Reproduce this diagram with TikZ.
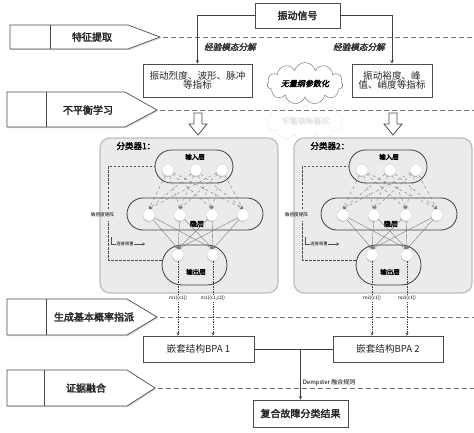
\documentclass[tikz,border=0pt]{standalone}
\usepackage{fontspec}
\setmainfont{Noto Sans CJK SC}[AutoFakeBold=2.5,AutoFakeSlant=0.2]
\usepackage{tikz}
\usetikzlibrary{calc}
\usetikzlibrary{shapes}
\usetikzlibrary{shadows}
\definecolor[named]{PanelGray}{gray}{0.92}
\definecolor[named]{PanelEdge}{gray}{0.74}
\definecolor[named]{InkGray}{gray}{0.30}
\newcommand{\fsz}[1]{\fontsize{#1}{#1}\selectfont}

\tikzset{
  neuron/.style={circle,minimum size=12pt,inner sep=0pt,fill=white,draw=black!20,line width=0.3pt,
    circular drop shadow={shadow xshift=-0.8pt,shadow yshift=-0.8pt,opacity=0.35,shadow scale=1.05}},
  nnw/.style={draw=black!55,line width=0.35pt,->},
  lyr/.style={font=\bfseries\fsz{6.5},inner sep=0pt},
  layer/.style={rounded rectangle,draw=black!75,line width=0.8pt,inner sep=0pt},
  fb/.style={draw=black!70,line width=0.5pt,dash pattern=on 2.5pt off 1.5pt},
  tinytxt/.style={font=\fsz{4.6},inner sep=0.6pt}
}

\tikzset{hollow/.pic={ %{{{
  \draw[black!70,line width=0.8pt,fill=white]
    (-4,-11) -- (4,-11) -- (4,0) -- (9,0) -- (0,11) -- (-9,0) -- (-4,0) -- cycle;
}}
%}}}
\tikzset{clf/.pic={ %{{{
  % panel
  \draw[PanelEdge,fill=PanelGray,line width=1.2pt,rounded corners=10pt] (0,0) rectangle (178,155);
  \node[anchor=west,font=\bfseries\fsz{8.5}] (-title) at (13,8) {分类器#1：};
  % layers
  \node[layer,minimum width=78pt,minimum height=33pt] (-in) at (94,28.5) {};
  \node[layer,minimum width=136pt,minimum height=32pt] (-hid) at (95,76) {};
  \node[layer,minimum width=65pt,minimum height=40pt] (-out) at (94.5,127) {};
  \node[lyr] (-inl) at (95,19) {输入层};
  \node[lyr,font=\bfseries\fsz{7}] (-hidl) at (97,86) {隐层};
  \node[lyr] (-outl) at (96,134) {输出层};
  % neurons
  \foreach \x [count=\k] in {68,96,122} \node[neuron] (-i\k) at (\x,32) {};
  \foreach \x [count=\k] in {49,80,112,143} \node[neuron] (-h\k) at (\x,77) {};
  \foreach \x [count=\k] in {78,113} \node[neuron] (-o\k) at (\x,117) {};
  \foreach \a in {1,2,3} \foreach \b in {1,...,4} \draw[nnw,dashed] (-i\a) -- (-h\b.north);
  \foreach \a in {1,...,4} \foreach \b in {1,2} \draw[nnw] (-h\a) -- (-o\b.north);
  % sensitivity feedback
  \node[tinytxt] (-sens) at (2.5,77) {敏感度矩阵};
  \coordinate (-s1) at (8,83);
  \coordinate (-s2) at (8,71);
  \draw[fb] ([yshift=5pt]-out.west) -| (-s1);
  \draw[fb] (-s2) |- (-in.west);
  % weight legend
  \coordinate (-w0) at (11,99);
  \node[tinytxt,font=\fsz{4.3}] (-wt) at (25,106) {连接权重};
  \draw[black!70,line width=0.4pt] (-w0) |- (-wt.west);
  \draw[black!70,line width=0.4pt,->] (-wt.east) -- ++(11,0);
}}
%}}}

\begin{document}
\begin{tikzpicture}[x=1pt,y=-1pt,>=stealth,
    box/.style={draw=black!70,line width=0.7pt,fill=white,inner sep=2pt,align=center,
      font=\fsz{9.6},text=black!85,
      drop shadow={shadow xshift=1.2pt,shadow yshift=-1.2pt,opacity=0.3}},
    stagebox/.style={draw=black!70,line width=0.7pt,fill=white,
      drop shadow={shadow xshift=1.2pt,shadow yshift=-1.2pt,opacity=0.3}},
    stagetxt/.style={font=\bfseries\fsz{10},text=black!85},
    sepline/.style={draw=black!55,line width=0.7pt,dash pattern=on 5pt off 3pt},
    conn/.style={draw=black!75,line width=0.6pt},
    mline/.style={draw=black!75,line width=0.45pt,dash pattern=on 1.5pt off 1pt,->},
    mlab/.style={fill=white,inner sep=0.8pt,font=\fsz{4.6}}]
  \useasboundingbox (0,0) rectangle (474,433);

  % Stages on the left
  \draw[stagebox] (10,25) -- (128,25) -- (160,37) coordinate (t1) -- (128,49) -- (10,49) -- cycle;
  \draw[stagebox] (7,92) -- (125,92) -- (157,110) coordinate (t2) -- (125,127) -- (7,127) -- cycle;
  \draw[stagebox] (7,299) -- (127,299) -- (157,317) coordinate (t3) -- (127,335) -- (7,335) -- cycle;
  \draw[stagebox] (7,370) -- (127,370) -- (155,388) coordinate (t4) -- (127,406) -- (7,406) -- cycle;
  \draw[black!70,line width=0.7pt]
    (50,25) -- (50,49)  (46,92) -- (46,127)
    (46,299) -- (46,335)  (44,370) -- (44,406);
  \node[stagetxt] (st1) at (92,37) {特征提取};
  \node[stagetxt] (st2) at (88,110) {不平衡学习};
  \node[stagetxt] (st3) at (94,317) {生成基本概率指派};
  \node[stagetxt] (st4) at (86,388) {证据融合};

  \coordinate (e1) at (474,37);
  \coordinate (e2) at (474,110);
  \coordinate (e3) at (474,317);
  \coordinate (e4) at (474,388);
  \draw[sepline] ([xshift=3pt]t1) -- (e1);
  \draw[sepline] ([xshift=3pt]t2) -- (e2);
  \draw[sepline] ([xshift=3pt]t3) -- (e3);
  \draw[sepline] ([xshift=3pt]t4) -- (e4);

  % Feature extraction
  \node[box,minimum width=85pt,minimum height=25pt,font=\bfseries\fsz{10}] (sig) at (297.5,15.5) {振动信号};
  \node[box,minimum width=109pt,minimum height=33pt] (f1) at (197.5,80.5) {振动烈度、波形、脉冲\\等指标};
  \node[box,minimum width=80pt,minimum height=33pt] (f2) at (392,80.5) {振动裕度、峰\\值、峭度等指标};
  \draw[conn,->] (sig.west) -| (f1.north);
  \draw[conn,->] (sig.east) -| (f2.north);
  \node[font=\bfseries\itshape\fsz{8.6},text=black!80] (emd1) at (230,47) {经验模态分解};
  \node[font=\bfseries\itshape\fsz{8.6},text=black!80] (emd2) at (359,47) {经验模态分解};

  % Dimensionless parameters
  \node[cloud,cloud puffs=11,aspect=2.4,draw=black!60,fill=white,minimum width=76pt,minimum height=33pt,
    inner sep=0pt,font=\bfseries\itshape\fsz{8}] (cl) at (305,83.5) {无量纲参数化};
  \node[cloud,cloud puffs=11,aspect=2.4,draw=black!9,text=black!10,minimum width=76pt,minimum height=28pt,
    inner sep=0pt,font=\bfseries\itshape\fsz{8},yscale=-1,transform shape] (clr) at (305,121) {无量纲参数化};

  % Classifiers
  \pic at (198,124) {hollow};
  \pic at (393,124) {hollow};
  \pic (c1) at (100,138) {clf=1};
  \pic (c2) at (294,138) {clf=2};

  % Basic probability assignment
  \node[box,minimum width=111pt,minimum height=26pt] (bpa1) at (198.5,349) {嵌套结构BPA 1};
  \node[box,minimum width=110pt,minimum height=26pt] (bpa2) at (388,349) {嵌套结构BPA 2};
  \draw[mline] (c1-o1) -- (c1-o1 |- bpa1.north) node[mlab,pos=0.5] {m1(\{c1\})};
  \draw[mline] (c1-o2) -- (c1-o2 |- bpa1.north) node[mlab,pos=0.5] {m1(\{c1,c2\})};
  \draw[mline] (c2-o1) -- (c2-o1 |- bpa2.north) node[mlab,pos=0.5] {m2(\{c1\})};
  \draw[mline] (c2-o2) -- (c2-o2 |- bpa2.north) node[mlab,pos=0.5] {m2(\{c1\})};

  % Evidence fusion
  \node[box,minimum width=95pt,minimum height=27pt,font=\bfseries\fsz{10}] (res) at (300.5,413.5) {复合故障分类结果};
  \draw[conn] (bpa1.east) -- (bpa2.west);
  \draw[conn,->] (res.north |- bpa1.east) -- (res.north)
    node[pos=0.67,right,font=\fsz{6},inner sep=2pt] {Dempster 融合规则};

\end{tikzpicture}
\end{document}
